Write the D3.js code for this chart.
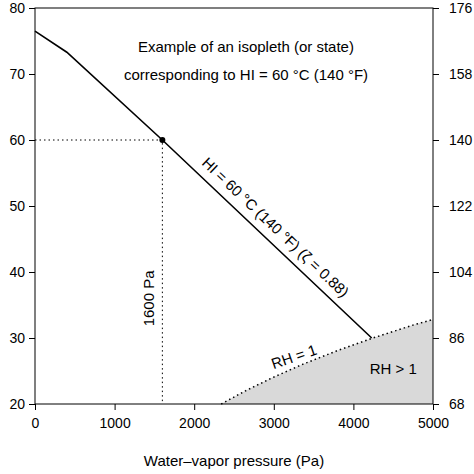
<!DOCTYPE html><html><head><script src="https://cdn.jsdelivr.net/npm/d3@7"></script>
<style>body{margin:0;background:#fff}text{font-family:"Liberation Sans",Arial,sans-serif}</style></head><body>
<svg id="c" width="474" height="474"></svg>
<script>
const xTicks=[0,1000,2000,3000,4000,5000];
const yTicks=[20,30,40,50,60,70,80];
const fTicks=[68,86,104,122,140,158,176];
const isoP=[0,400,1600,4230];
const isoT=[76.5,73.3,60,30];
const satP=[2339,2645,2985,3360,3780,4246,4760,5000];
const satT=[20,22,24,26,28,30,32,32.8];
const svg=d3.select("#c");
const x=d3.scaleLinear().domain([0,5000]).range([35,433]);
const y=d3.scaleLinear().domain([20,80]).range([404,8]);
const yf=d3.scaleLinear().domain([68,176]).range([404,8]);
const g=svg.append("g");
const area=satP.map((p,i)=>[p,satT[i]]);
g.append("path").attr("d",d3.line().x(d=>x(d[0])).y(d=>y(d[1]))([...area,[5000,20]])+"Z").attr("fill","#d9d9d9");
g.append("path").attr("d",d3.line().x(d=>x(d[0])).y(d=>y(d[1]))(area)).attr("fill","none").attr("stroke","#000").attr("stroke-width",1.5).attr("stroke-dasharray","1.5,3");
g.append("path").attr("d",d3.line().x(d=>x(d[0])).y(d=>y(d[1]))(isoP.map((p,i)=>[p,isoT[i]]))).attr("fill","none").attr("stroke","#000").attr("stroke-width",1.6);
g.append("path").attr("d",`M${x(0)},${y(60)}H${x(1600)}V${y(20)}`).attr("fill","none").attr("stroke","#000").attr("stroke-dasharray","1.5,3");
g.append("circle").attr("cx",x(1600)).attr("cy",y(60)).attr("r",3);
g.append("rect").attr("x",35).attr("y",8).attr("width",398).attr("height",396).attr("fill","none").attr("stroke","#000");
const ax=(a)=>a.call(s=>s.select(".domain").remove()).call(s=>s.selectAll("text").attr("font-size",14).attr("font-family","Liberation Sans"));
svg.append("g").attr("transform","translate(0,404)").call(d3.axisBottom(x).tickValues(xTicks).tickSize(6).tickPadding(8).tickFormat(d3.format("d"))).call(ax);
svg.append("g").attr("transform","translate(35,0)").call(d3.axisLeft(y).tickValues(yTicks).tickSize(6).tickPadding(4)).call(ax);
svg.append("g").attr("transform","translate(433,0)").call(d3.axisRight(yf).tickValues(fTicks).tickSize(6).tickPadding(10)).call(ax);
svg.append("text").attr("x",234).attr("y",466).attr("text-anchor","middle").attr("font-size",15).text("Water\u2013vapor pressure (Pa)");
svg.append("text").attr("x",246).attr("y",52).attr("text-anchor","middle").attr("font-size",15).text("Example of an isopleth (or state)");
svg.append("text").attr("x",246).attr("y",80).attr("text-anchor","middle").attr("font-size",15).text("corresponding to HI = 60 \u00b0C  (140 \u00b0F)");
const ang=Math.atan2(y(30)-y(60),x(4230)-x(1600))*180/Math.PI;
svg.append("text").attr("transform",`translate(${x(2900)+6},${y(45)-8}) rotate(${ang})`).attr("text-anchor","middle").attr("font-size",15).text("HI = 60 \u00b0C (140 \u00b0F) (\u03b6 = 0.88)");
svg.append("text").attr("transform",`translate(${x(1600)-8},${y(36)}) rotate(-90)`).attr("text-anchor","middle").attr("font-size",15).text("1600 Pa");
svg.append("text").attr("transform",`translate(${x(3350)-6},${y(25.5)-6}) rotate(-19)`).attr("text-anchor","middle").attr("font-size",15).text("RH = 1");
svg.append("text").attr("x",x(4500)).attr("y",y(24.5)).attr("text-anchor","middle").attr("font-size",15).text("RH > 1");
</script></body></html>
